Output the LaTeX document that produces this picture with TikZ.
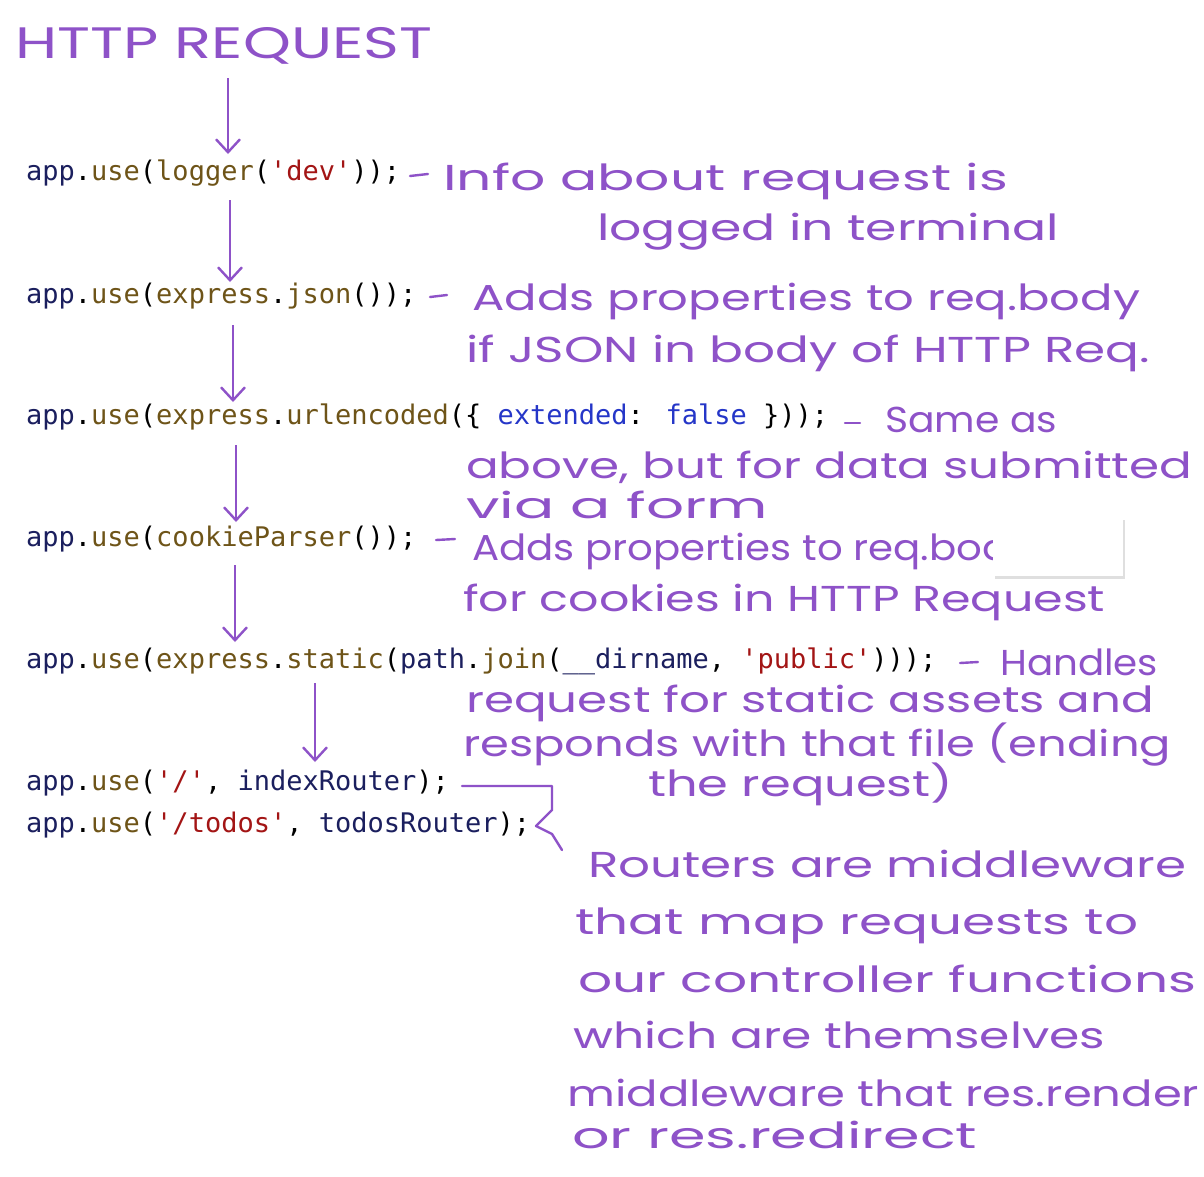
\documentclass[tikz,border=0pt]{standalone}
\usepackage{fontspec}
\usepackage{graphicx}
\setmainfont{Poppins}
\newfontfamily\codefont{DejaVu Sans Mono}
\usetikzlibrary{arrows.meta}
\definecolor{hp}{HTML}{8E52C8}
\definecolor{cnavy}{HTML}{1B1F5E}
\definecolor{cbrown}{HTML}{6E5418}
\definecolor{cred}{HTML}{A31515}
\definecolor{cblue}{HTML}{2536C8}
\newcommand\hw[2]{\resizebox{#1pt}{\height}{#2}}
\newcommand\A[1]{\textcolor{cnavy}{#1}}
\newcommand\B[1]{\textcolor{cbrown}{#1}}
\newcommand\R[1]{\textcolor{cred}{#1}}
\tikzset{
 code/.style={anchor=base west,inner sep=0pt,font=\codefont\fontsize{27}{30}\selectfont,text=black},
 hand/.style={anchor=base west,inner sep=0pt,text=hp,font=\fontsize{36}{40}\selectfont},
 flow/.style={draw=hp,line width=2.4pt,-{Straight Barb[length=13pt,width=24pt]}},
 penline/.style={draw=hp,line width=2.4pt,line cap=round}
}
\begin{document}
\begin{tikzpicture}[x=1pt,y=-1pt]
\fill[white] (0,0) rectangle (1204,1176);
\useasboundingbox (0,0) rectangle (1204,1176);
\node[hand,font=\fontsize{44}{48}\selectfont] (title) at (15,58) {\hw{417}{HTTP REQUEST}};
% code
\node[code] (c1) at (26,180) {\A{app}.\B{use}(\B{logger}(\R{'dev'}));};
\node[code] (c2) at (26,303) {\A{app}.\B{use}(\B{express}.\B{json}());};
\node[code] (c3) at (26,424) {\A{app}.\B{use}(\B{express}.\B{urlencoded}(\{ \textcolor{cblue}{extended}: \textcolor{cblue}{false} \}));};
\node[code] (c4) at (26,546) {\A{app}.\B{use}(\B{cookieParser}());};
\node[code] (c5) at (26,668) {\A{app}.\B{use}(\B{express}.\B{static}(\A{path}.\B{join}(\A{\_\_dirname}, \R{'public'})));};
\node[code] (c6) at (26,790) {\A{app}.\B{use}(\R{'/'}, \A{indexRouter});};
\node[code] (c7) at (26,832) {\A{app}.\B{use}(\R{'/todos'}, \A{todosRouter});};
% flow arrows
\coordinate (a0) at (228,78); \coordinate (b0) at (228,154);
\coordinate (a1) at (230,200); \coordinate (b1) at (230,282);
\coordinate (a2) at (233,325); \coordinate (b2) at (233,402);
\coordinate (a3) at (236,445); \coordinate (b3) at (236,522);
\coordinate (a4) at (235,565); \coordinate (b4) at (235,642);
\coordinate (a5) at (315,683); \coordinate (b5) at (315,762);
\foreach \i in {0,...,5} \draw[flow] (a\i) -- (b\i);
% dashes
\coordinate (d1a) at (410,176); \coordinate (d1b) at (428,174);
\coordinate (d2a) at (430,297); \coordinate (d2b) at (447,295);
\coordinate (d3a) at (845,423); \coordinate (d3b) at (860,423);
\coordinate (d4a) at (436,540); \coordinate (d4b) at (455,539);
\coordinate (d5a) at (960,663); \coordinate (d5b) at (978,662);
\foreach \i in {1,...,5} \draw[penline] (d\i a) -- (d\i b);
% annotations
\node[hand] (n1a) at (443,190) {\hw{565}{Info about request is}};
\node[hand] (n1b) at (597,240) {\hw{462}{logged in terminal}};
\node[hand] (n2a) at (472,310) {\hw{668}{Adds properties to req.body}};
\node[hand] (n2b) at (466,362) {\hw{684}{if JSON in body of HTTP Req.}};
\node[hand] (n3a) at (885,432) {\hw{172}{Same as}};
\node[hand] (n3b) at (466,478) {\hw{726}{above, but for data submitted}};
\node[hand] (n3c) at (466,518) {\hw{302}{via a form}};
\node[hand] (n4a) at (472,560) {\hw{560}{Adds properties to req.body}};
\node[hand] (n4b) at (463,611) {\hw{642}{for cookies in HTTP Request}};
\node[hand] (n5a) at (1000,675) {\hw{158}{Handles}};
\node[hand] (n5b) at (466,712) {\hw{688}{request for static assets and}};
\node[hand] (n5c) at (463,756) {\hw{708}{responds with that file (ending}};
\node[hand] (n5d) at (648,796) {\hw{305}{the request)}};
\node[hand] (r1) at (588,877) {\hw{598}{Routers are middleware}};
\node[hand] (r2) at (575,934) {\hw{563}{that map requests to}};
\node[hand] (r3) at (578,992) {\hw{618}{our controller functions}};
\node[hand] (r4) at (573,1048) {\hw{532}{which are themselves}};
\node[hand] (r5) at (567,1106) {\hw{632}{middleware that res.render}};
\node[hand] (r6) at (572,1148) {\hw{405}{or res.redirect}};
% white patch over part of text
\fill[gray!25] (995,520) rectangle (1125,579);
\fill[white] (993,518) rectangle (1123,576);
% bracket
\coordinate (k0) at (462,786);
\coordinate (k1) at (552,786);
\coordinate (k2) at (552,810);
\coordinate (k3) at (536,826);
\coordinate (k4) at (552,834);
\coordinate (k5) at (562,850);
\draw[penline,line join=round] (k0) -- (k1) -- (k2) -- (k3) -- (k4) -- (k5);
\end{tikzpicture}
\end{document}
